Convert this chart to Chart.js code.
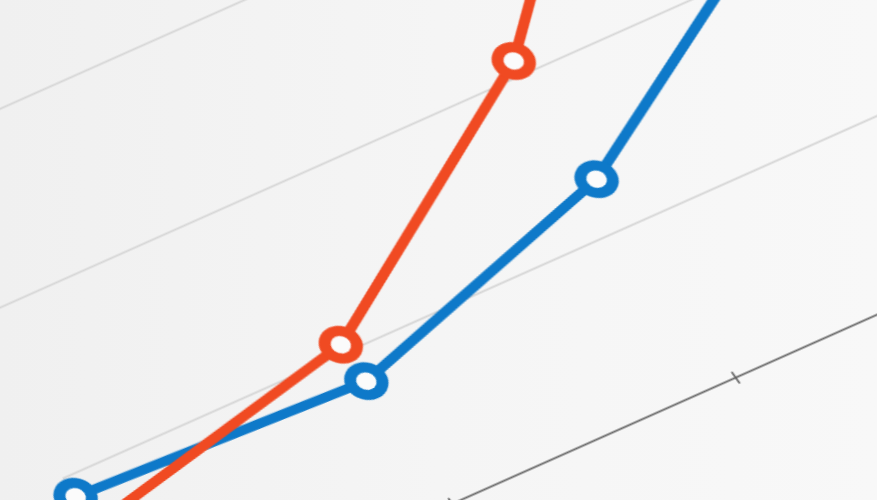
<!DOCTYPE html>
<html>
<head>
<meta charset="utf-8">
<script src="https://cdn.jsdelivr.net/npm/chart.js@4.4.1/dist/chart.umd.min.js"></script>
<style>
    html, body {
        margin: 0;
        padding: 0;
        width: 877px;
        height: 500px;
        overflow: hidden;
        background: linear-gradient(90deg, #f0f0f0 0%, #f5f5f5 50%, #f8f8f8 100%);
    }
    #paper {
        position: absolute;
        left: 0;
        top: 0;
        width: 1100px;
        height: 820px;
        transform-origin: 0 0;
    }
</style>
</head>
<body>
<div id="paper"><canvas id="growthChart" width="1100" height="820"></canvas></div>
<script>
// values (one point per period, y grid every 10)
const periods = ['Q1', 'Q2', 'Q3', 'Q4'];
const redSeries = [6.9, 10.5, 20.9, 37.8];
const blueSeries = [8.8, 8.1, 13.1, 22.9];
const yMin = 0;
const yMax = 40;
const yStep = 10;

// the sheet is photographed at an angle: chart x runs up-right, chart "down" leans right
const AXIS_X = { x: 0.914, y: -0.407 };
const AXIS_DOWN = { x: 0.574, y: 0.819 };
const ORIGIN_ON_SCREEN = { x: 169, y: 630 };   // where (first period, 0) lands
const PERIOD_STEP = 310;                        // screen px between periods
const UNIT_STEP = 18.5;                         // screen px per y unit

const crossTicks = {
    id: 'crossTicks',
    afterDraw(chart) {
        const scale = chart.scales.x;
        const ctx = chart.ctx;
        const y = scale.top;
        ctx.save();
        ctx.strokeStyle = '#5f5f5f';
        ctx.lineWidth = 1.8;
        scale.ticks.forEach((t, i) => {
            const x = scale.getPixelForTick(i);
            ctx.beginPath();
            ctx.moveTo(x, y - 7);
            ctx.lineTo(x, y + 7);
            ctx.stroke();
        });
        ctx.restore();
    }
};

const ctx = document.getElementById('growthChart').getContext('2d');
const chart = new Chart(ctx, {
    type: 'line',
    data: {
        labels: periods,
        datasets: [{
            label: 'Series B',
            data: redSeries,
            borderColor: '#f04a22',
            backgroundColor: '#f04a22',
            borderWidth: 10,
            pointRadius: 15,
            pointBorderWidth: 11,
            pointBackgroundColor: '#fbfbfb',
            pointBorderColor: '#f04a22',
            tension: 0,
            borderJoinStyle: 'round',
            clip: false
        }, {
            label: 'Series A',
            data: blueSeries,
            borderColor: '#0e79c9',
            backgroundColor: '#0e79c9',
            borderWidth: 10,
            pointRadius: 15,
            pointBorderWidth: 11,
            pointBackgroundColor: '#fbfbfb',
            pointBorderColor: '#0e79c9',
            tension: 0,
            borderJoinStyle: 'round',
            clip: false
        }]
    },
    options: {
        responsive: false,
        animation: false,
        events: [],
        layout: {
            padding: { left: 30, right: 140, top: 40, bottom: 40 }
        },
        scales: {
            x: {
                offset: false,
                grid: { display: false },
                border: { display: true, color: '#5f5f5f', width: 1.8 },
                ticks: { display: false }
            },
            y: {
                min: yMin,
                max: yMax,
                ticks: { display: false, stepSize: yStep },
                grid: {
                    color: '#d6d6d6',
                    lineWidth: 2,
                    drawTicks: false
                },
                border: { display: false }
            }
        },
        plugins: {
            legend: { display: false },
            tooltip: { enabled: false }
        }
    },
    plugins: [crossTicks]
});

// tilt the finished canvas so it sits like the photographed sheet
const xs = chart.scales.x;
const ys = chart.scales.y;
const a0 = xs.getPixelForValue(0);
const a1 = xs.getPixelForValue(periods.length - 1);
const b0 = ys.getPixelForValue(yMin);
const b1 = ys.getPixelForValue(30);
const sx = ((periods.length - 1) * PERIOD_STEP) / (a1 - a0);
const sy = (30 * UNIT_STEP) / (b0 - b1);
const m = [sx * AXIS_X.x, sx * AXIS_X.y, sy * AXIS_DOWN.x, sy * AXIS_DOWN.y];
const e = ORIGIN_ON_SCREEN.x - (m[0] * a0 + m[2] * b0);
const f = ORIGIN_ON_SCREEN.y - (m[1] * a0 + m[3] * b0);
document.getElementById('paper').style.transform =
    `matrix(${m[0]}, ${m[1]}, ${m[2]}, ${m[3]}, ${e}, ${f})`;
</script>
</body>
</html>
